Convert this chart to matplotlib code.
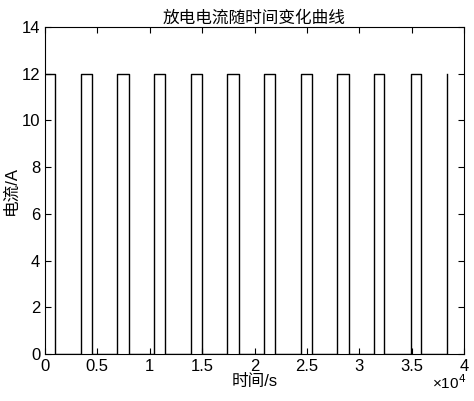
import matplotlib
matplotlib.use('Agg')
import matplotlib.pyplot as plt

plt.rcParams['font.family'] = ['Liberation Sans', 'Noto Sans CJK SC', 'DejaVu Sans']

rise_times = [0, 3400, 6900, 10400, 13900, 17400, 20900, 24400, 27900, 31400, 34900, 38350]
fall_times = [950, 4500, 8000, 11500, 15000, 18500, 22000, 25500, 29000, 32400, 35900]
current_on = 12
current_off = 0

t = []
i = []
for k, r in enumerate(rise_times):
    t += [r, r]
    i += [current_off, current_on] if k > 0 else [current_on, current_on]
    if k < len(fall_times):
        f = fall_times[k]
        t += [f, f]
        i += [current_on, current_off]
t = t[1:]; i = i[1:]

fig = plt.figure(figsize=(4.74, 4.01), dpi=100)
ax = fig.add_axes([45/474, 47/401, 419/474, 327/401])
ax.plot(t, i, color='black', lw=1.0)
ax.set_xlim(0, 40000)
ax.set_ylim(0, 14)
ax.set_xticks([0, 5000, 10000, 15000, 20000, 25000, 30000, 35000, 40000])
ax.set_xticklabels(['0', '0.5', '1', '1.5', '2', '2.5', '3', '3.5', '4'])
ax.set_yticks(range(0, 15, 2))
ax.tick_params(direction='in', top=True, right=True, labelsize=12, length=4)
for s in ax.spines.values():
    s.set_linewidth(0.8)
ax.set_title('放电电流随时间变化曲线', fontsize=12, pad=3, family=['Noto Sans CJK SC'])
ax.set_xlabel('时间/s', fontsize=12, labelpad=0)
ax.set_ylabel('电流/A', fontsize=12, labelpad=2)
fig.text(0.912, 0.03, '×10$^4$', fontsize=11)
fig.savefig('out.png', dpi=100)
